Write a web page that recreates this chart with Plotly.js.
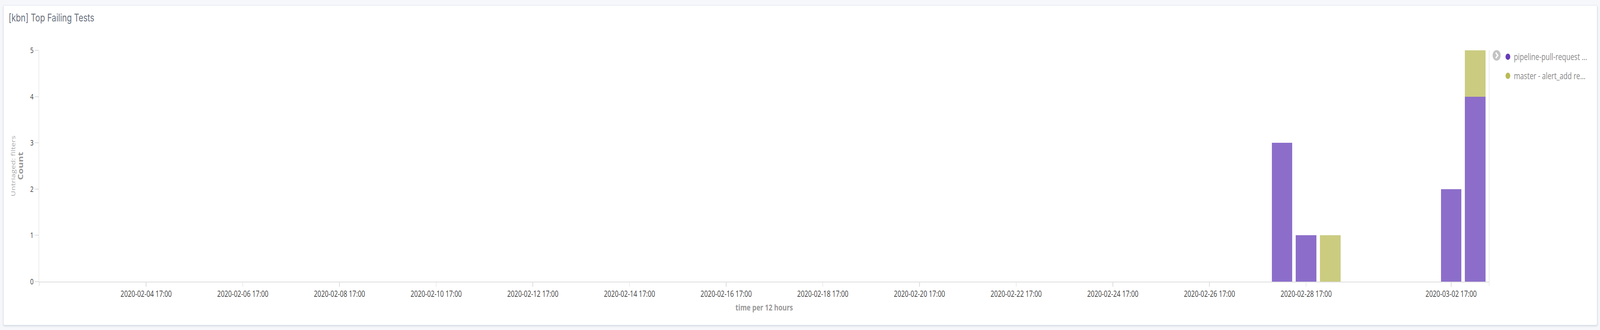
<!DOCTYPE html>
<html>
<head>
<meta charset="utf-8">
<script src="https://cdn.plot.ly/plotly-3.0.1.min.js"></script>
<style>
  html, body { margin: 0; padding: 0; background: #f5f7fa; overflow: hidden; }
  #wrap { position: absolute; left: 0; top: 0; width: 5386px; height: 846px; transform-origin: 0 0; }
  #panel {
    position: absolute; left: 11px; top: 13px; width: 5364px; height: 819px;
    background: #fff; border: 1px solid #d3dae6; border-radius: 5px;
    box-shadow: 0 3px 4px rgba(152,162,179,0.25);
  }
  #chart { position: absolute; left: 0; top: 0; width: 5386px; height: 846px; }
</style>
</head>
<body>
<div id="wrap">
  <div id="panel"></div>
  <div id="chart"></div>
</div>
<script>
  // 12 hour buckets (browser time)
  var pipelineTimes = ['2020-02-28 05:00', '2020-02-28 17:00', '2020-03-02 17:00', '2020-03-03 05:00'];
  var pipelineCounts = [3, 1, 2, 4];
  var masterTimes = ['2020-02-29 05:00', '2020-03-03 05:00'];
  var masterCounts = [1, 1];

  var seriesNames = ['pipeline-pull-request ...', 'master - alert_add re...'];
  var seriesColors = ['#663db8', '#b9bb55'];

  var timeRange = ['2020-02-02 11:54', '2020-03-03 11:54'];
  var tickTimes = ['2020-02-04 17:00', '2020-02-06 17:00', '2020-02-08 17:00', '2020-02-10 17:00',
                   '2020-02-12 17:00', '2020-02-14 17:00', '2020-02-16 17:00', '2020-02-18 17:00',
                   '2020-02-20 17:00', '2020-02-22 17:00', '2020-02-24 17:00', '2020-02-26 17:00',
                   '2020-02-28 17:00', '2020-03-02 17:00'];

  // the chart is laid out at 5386x846, squeeze it into the real window
  var W = window.innerWidth || 5386;
  var H = window.innerHeight || 846;
  document.getElementById('wrap').style.transform = 'scale(' + (W / 5386) + ',' + (H / 846) + ')';

  var pipeline = {
    x: pipelineTimes,
    y: pipelineCounts,
    name: seriesNames[0],
    type: 'bar',
    marker: {color: seriesColors[0], opacity: 0.75},
    showlegend: false,
    hoverinfo: 'x+y'
  };

  var master = {
    x: masterTimes,
    y: masterCounts,
    name: seriesNames[1],
    type: 'bar',
    marker: {color: seriesColors[1], opacity: 0.75},
    showlegend: false,
    hoverinfo: 'x+y'
  };

  // legend entries with round dots like kibana
  var legendItems = seriesNames.map(function(n, i) {
    return {
      x: [null], y: [null],
      name: n,
      type: 'scatter',
      mode: 'markers',
      marker: {color: seriesColors[i], size: 16},
      legendgroup: 'g' + i
    };
  });

  var data = [pipeline, master].concat(legendItems);

  var layout = {
    width: 5386,
    height: 846,
    paper_bgcolor: 'rgba(0,0,0,0)',
    plot_bgcolor: 'rgba(0,0,0,0)',
    margin: {l: 132, r: 373, t: 129, b: 124, pad: 0},
    barmode: 'stack',
    bargap: 0.15,
    font: {family: 'Open Sans', color: '#444'},
    title: {
      text: '[kbn] Top Failing Tests',
      font: {family: 'Inter', size: 27, color: '#69707d'},
      xref: 'container', yref: 'container',
      x: 29 / 5386, xanchor: 'left',
      y: 1 - 46 / 846, yanchor: 'middle'
    },
    xaxis: {
      type: 'date',
      range: timeRange,
      tickmode: 'array',
      tickvals: tickTimes,
      ticktext: tickTimes,
      tickfont: {family: 'Open Sans', size: 21.5, color: '#444'},
      ticks: 'outside',
      ticklen: 11,
      tickwidth: 1.5,
      tickcolor: '#dddddd',
      showline: true,
      linecolor: '#dddddd',
      linewidth: 2,
      showgrid: false,
      zeroline: false,
      title: {
        text: '<b>time per 12 hours</b>',
        font: {family: 'Open Sans', size: 22, color: '#999999'},
        standoff: 15
      }
    },
    yaxis: {
      range: [0, 5],
      dtick: 1,
      tickfont: {family: 'Open Sans', size: 20, color: '#444'},
      ticks: 'outside',
      ticklen: 13,
      tickwidth: 1.5,
      tickcolor: '#dddddd',
      showline: true,
      linecolor: '#dddddd',
      linewidth: 2,
      showgrid: false,
      zeroline: false,
      title: {
        text: '<span style="color:#ababab">Untriaged: filters</span><br><b><span style="font-size:24px">Count</span></b>',
        font: {family: 'Open Sans', size: 20, color: '#999999'},
        standoff: 18
      }
    },
    showlegend: true,
    legend: {
      x: 1.0088, xanchor: 'left',
      y: 1.0085, yanchor: 'top',
      traceorder: 'grouped',
      tracegroupgap: 16,
      font: {family: 'Open Sans', size: 23, color: '#898989'},
      bgcolor: 'rgba(0,0,0,0)'
    },
    shapes: [
      // right boundary of the chart area
      {type: 'line', xref: 'paper', yref: 'paper', x0: 1, x1: 1, y0: -0.019, y1: 1,
       line: {color: '#e6e6e6', width: 2}},
      // left axis line runs a little below zero
      {type: 'line', xref: 'paper', yref: 'paper', x0: 0, x1: 0, y0: -0.019, y1: 0,
       line: {color: '#dddddd', width: 2}},
      // legend toggle button
      {type: 'circle', xref: 'paper', yref: 'paper', xsizemode: 'pixel', ysizemode: 'pixel',
       xanchor: 1.00512, yanchor: 0.9781, x0: -13.5, x1: 13.5, y0: -13.5, y1: 13.5,
       fillcolor: '#c4c4c4', line: {width: 0}},
      {type: 'path', xref: 'paper', yref: 'paper', xsizemode: 'pixel', ysizemode: 'pixel',
       xanchor: 1.00512, yanchor: 0.9781, path: 'M -3 7 L 4 0 L -3 -7',
       line: {color: '#ffffff', width: 4}}
    ]
  };

  Plotly.newPlot('chart', data, layout, {displayModeBar: false});
</script>
</body>
</html>
